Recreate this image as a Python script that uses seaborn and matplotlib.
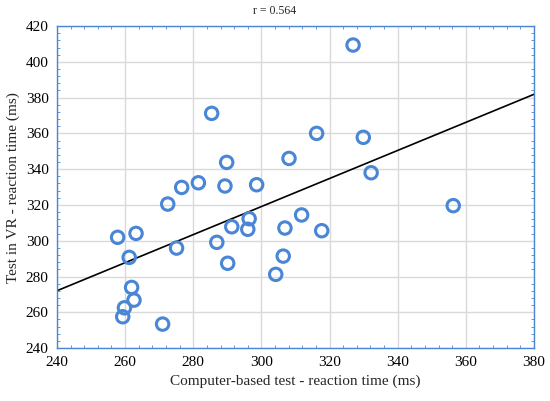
import numpy as np
import pandas as pd
import matplotlib
matplotlib.use('Agg')
import matplotlib.pyplot as plt
import seaborn as sns
from matplotlib.ticker import MultipleLocator

# --- data ---
computer_rt = [326.9, 285.4, 316.2, 329.9, 308.1, 289.8, 332.2, 356.3,
               276.6, 281.5, 289.3, 298.6, 272.5, 311.8, 296.4, 291.3,
               296.0, 306.9, 317.7, 257.8, 263.2, 286.9, 275.1, 261.2,
               290.1, 306.4, 304.2, 261.9, 262.6, 259.8, 259.3, 271.0]
vr_rt = [409.4, 371.2, 360.0, 357.8, 346.0, 343.8, 338.0, 319.6,
         329.8, 332.4, 330.6, 331.3, 320.5, 314.4, 312.3, 307.8,
         306.4, 307.1, 305.6, 301.9, 304.1, 299.1, 295.9, 290.7,
         287.4, 291.4, 281.2, 273.9, 266.8, 262.5, 257.5, 253.4]
x_ticks = [240, 260, 280, 300, 320, 340, 360, 380]
y_ticks = [240, 260, 280, 300, 320, 340, 360, 380, 400, 420]
r_value = 0.564  # as printed on the original chart

df = pd.DataFrame({'computer': computer_rt, 'vr': vr_rt})

sns.set_style('white')
plt.rcParams['font.family'] = ['Liberation Serif', 'DejaVu Serif']

blue = '#4a86d6'
fig = plt.figure(figsize=(5.5, 4.01), dpi=100)
ax = fig.add_axes([0.1036, 0.132, 0.8673, 0.803])

ax.grid(True, color='#d9d9d9', linewidth=1.0)
ax.set_axisbelow(True)
ax.set_xlim(240, 380)
ax.set_ylim(240, 420)

# regression line across the full x range, no confidence band
sns.regplot(x='computer', y='vr', data=df, ax=ax, ci=None, truncate=False,
            scatter=False, line_kws={'color': 'black', 'linewidth': 1.2})
sns.scatterplot(x='computer', y='vr', data=df, ax=ax, s=80,
                facecolor='none', edgecolor=blue, linewidth=2.2, zorder=3)

ax.set_xlim(240, 380)
ax.set_ylim(240, 420)
ax.set_xticks(x_ticks)
ax.set_yticks(y_ticks)
ax.xaxis.set_minor_locator(MultipleLocator(4))
ax.yaxis.set_minor_locator(MultipleLocator(4))
ax.tick_params(which='major', length=0, labelsize=11, pad=6, colors='black')
ax.tick_params(which='minor', direction='in', length=2.5, width=0.6,
               color=blue, top=True, right=True, bottom=True, left=True)

for sp in ax.spines.values():
    sp.set_color(blue)
    sp.set_linewidth(1.0)

ax.set_xlabel('Computer-based test - reaction time (ms)', fontsize=11, labelpad=4)
ax.set_ylabel('Test in VR - reaction time (ms)', fontsize=11, labelpad=4)
fig.text(0.5, 0.972, f'r = {r_value:.3f}', fontsize=8.5, ha='center', va='center')

fig.savefig('out.png', dpi=100)
